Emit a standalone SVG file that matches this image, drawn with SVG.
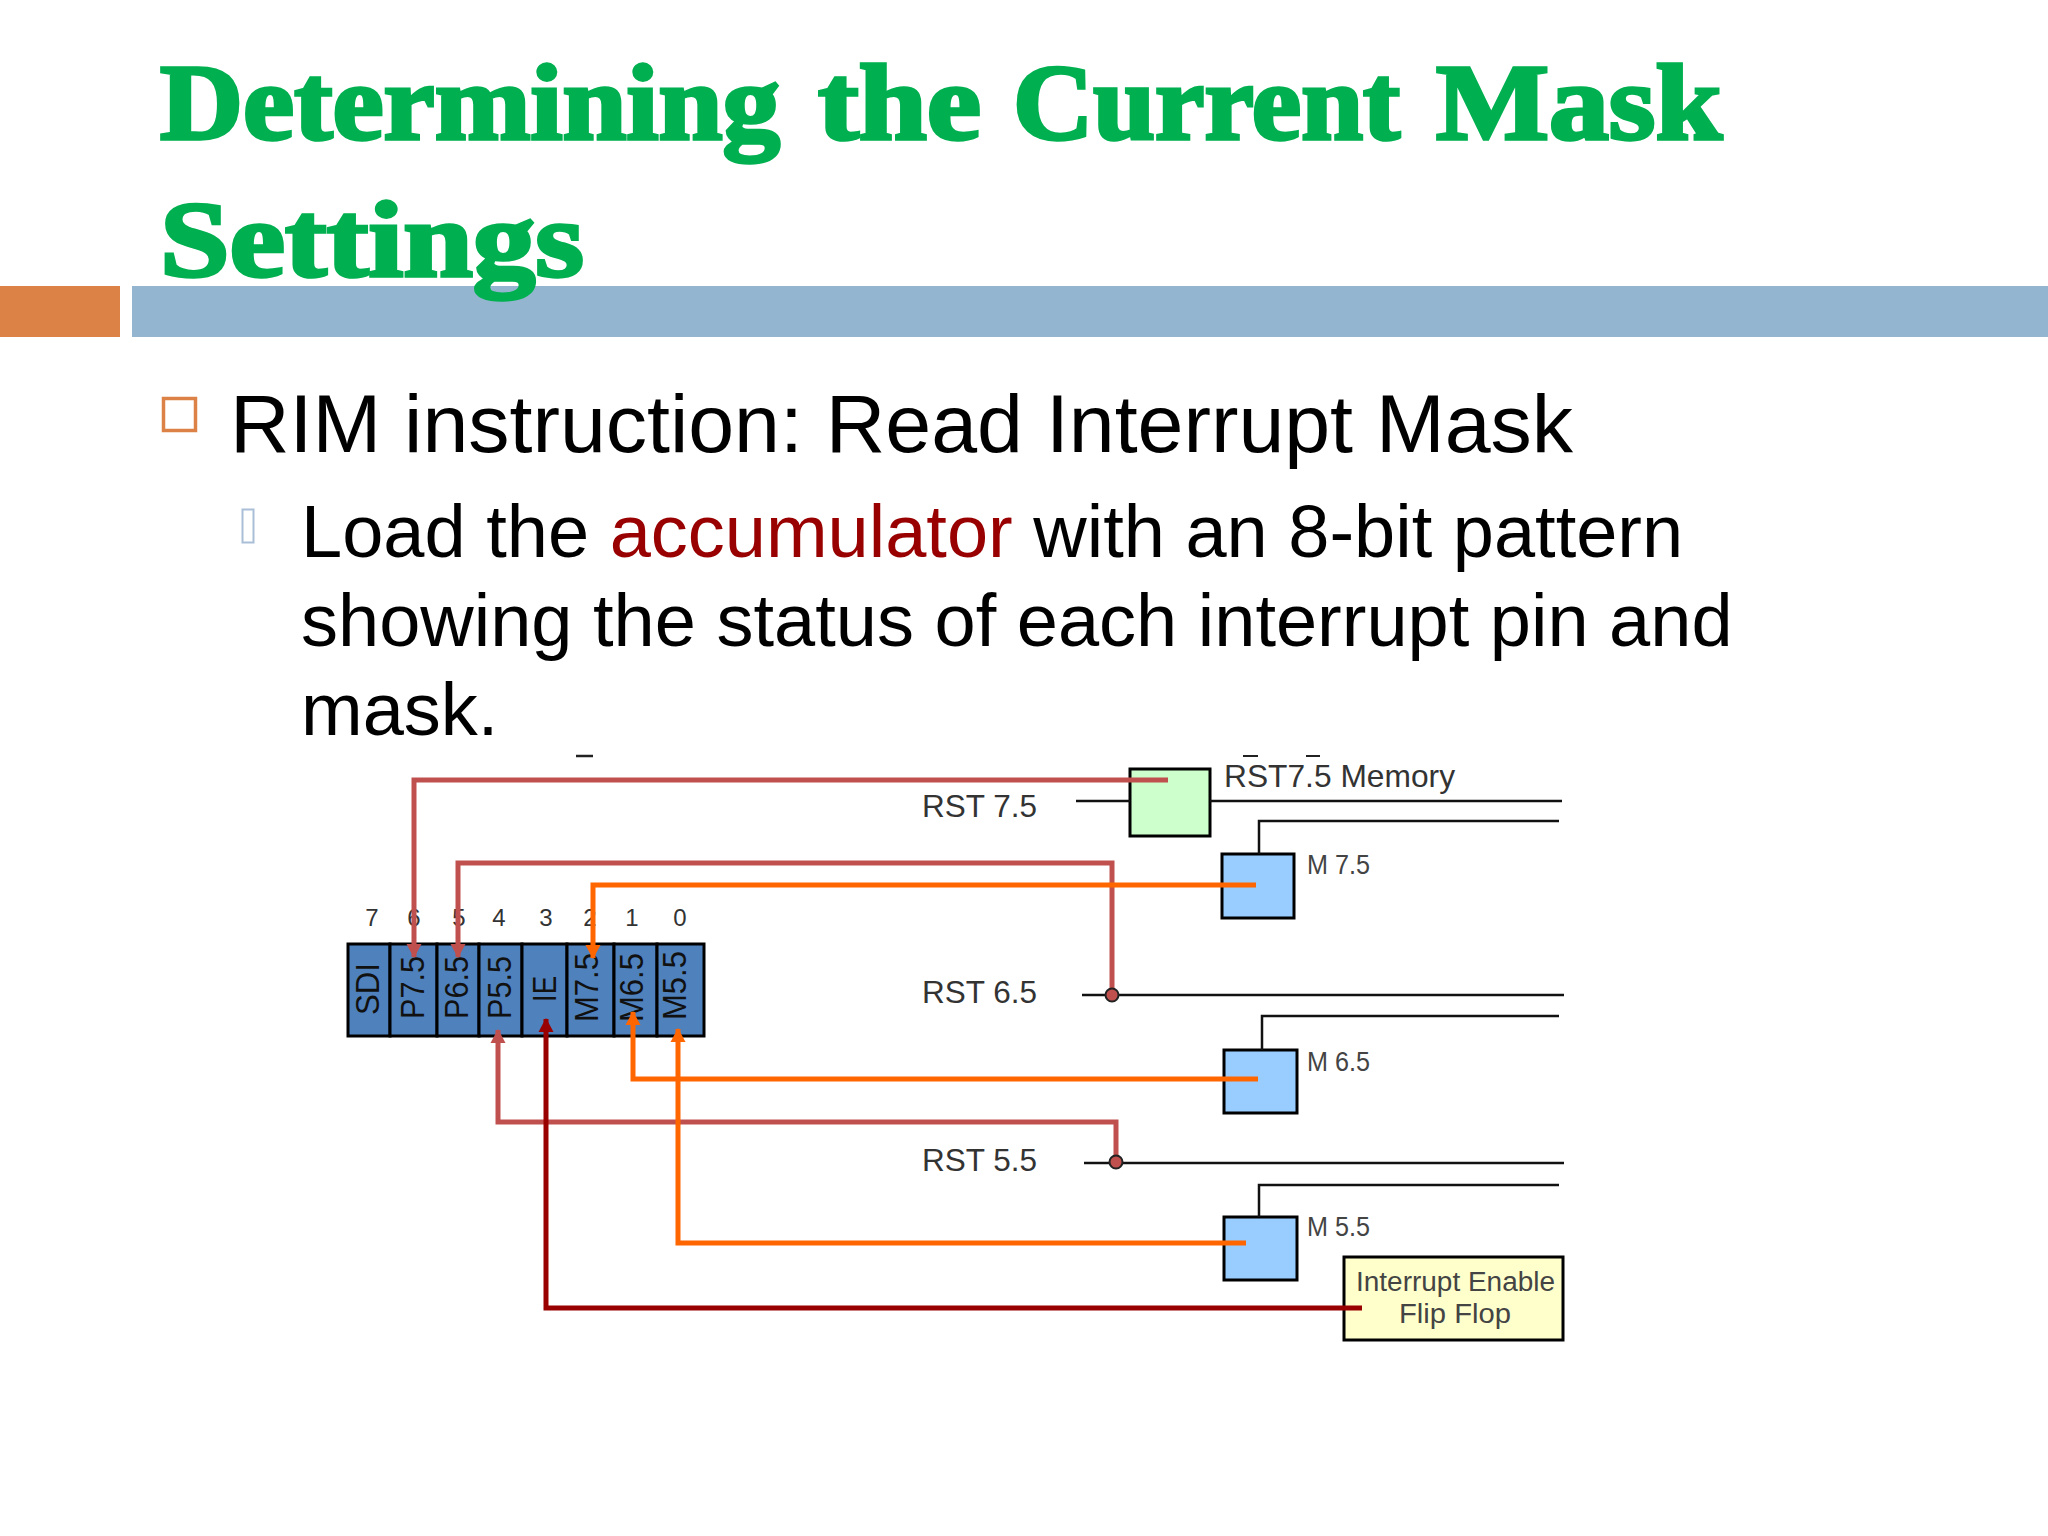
<svg xmlns="http://www.w3.org/2000/svg" width="2048" height="1536" viewBox="0 0 2048 1536">
<defs>
<marker id="ah-red" markerUnits="userSpaceOnUse" markerWidth="14" markerHeight="16" refX="13" refY="7.5" orient="auto" viewBox="0 0 14 15"><path d="M0 0L14 7.5L0 15Z" fill="#c0504d"/></marker>
<marker id="ah-orange" markerUnits="userSpaceOnUse" markerWidth="14" markerHeight="16" refX="13" refY="7.5" orient="auto" viewBox="0 0 14 15"><path d="M0 0L14 7.5L0 15Z" fill="#ff6600"/></marker>
<marker id="ah-dark" markerUnits="userSpaceOnUse" markerWidth="14" markerHeight="16" refX="13" refY="7.5" orient="auto" viewBox="0 0 14 15"><path d="M0 0L14 7.5L0 15Z" fill="#990000"/></marker>
</defs>
<style>
text{font-family:"Liberation Sans",Arial,sans-serif}
.title{font-family:"Liberation Serif","Times New Roman",serif;font-weight:700;font-size:108px;fill:#00b050;stroke:#00b050;stroke-width:3.500px}
.h1{font-size:82px;fill:#000}
.h2{font-size:74px;fill:#000}
.lab{font-size:32px;fill:#333}
.sm{font-size:27px;fill:#444}
.bit{font-size:24px;fill:#333}
.reg{font-size:33px;fill:#111}
.cell{fill:#4f81bd;stroke:#000;stroke-width:3}
.box{stroke:#000;stroke-width:3}
.wire{fill:none;stroke:#111;stroke-width:2.5}
.r{fill:none;stroke:#c0504d;stroke-width:5}
.o{fill:none;stroke:#ff6600;stroke-width:5}
.d{fill:none;stroke:#990000;stroke-width:5}
</style>
<rect width="2048" height="1536" fill="#fff"/>
<g id="bars">
<rect x="0" y="286" width="120" height="51" fill="#dc8247"/>
<rect x="132" y="286" width="1916" height="51" fill="#94b5d0"/>
</g>
<g id="title">
<text class="title" y="139"><tspan x="160" textLength="620" lengthAdjust="spacingAndGlyphs">Determining</tspan> <tspan x="818" textLength="163" lengthAdjust="spacingAndGlyphs">the</tspan> <tspan x="1013" textLength="387" lengthAdjust="spacingAndGlyphs">Current</tspan> <tspan x="1436" textLength="286" lengthAdjust="spacingAndGlyphs">Mask</tspan></text>
<text class="title" x="160" y="276" textLength="424" lengthAdjust="spacingAndGlyphs">Settings</text>
</g>
<g id="body">
<rect x="163.500" y="398.500" width="32" height="32" fill="none" stroke="#dc8247" stroke-width="3.500"/>
<text class="h1" x="230" y="452" textLength="1343" lengthAdjust="spacingAndGlyphs">RIM instruction: Read Interrupt Mask</text>
<rect x="242.500" y="509.500" width="11" height="33" fill="none" stroke="#a9bfd8" stroke-width="2"/>
<text class="h2" x="301" y="557">Load the <tspan fill="#990000">accumulator</tspan> with an 8-bit pattern</text>
<text class="h2" x="301" y="646">showing the status of each interrupt pin and</text>
<text class="h2" x="301" y="735">mask.</text>
</g>
<g id="register">
<rect class="cell" x="348" y="944" width="42" height="92"/>
<rect class="cell" x="390" y="944" width="47" height="92"/>
<rect class="cell" x="437" y="944" width="42" height="92"/>
<rect class="cell" x="479" y="944" width="43" height="92"/>
<rect class="cell" x="522" y="944" width="45" height="92"/>
<rect class="cell" x="567" y="944" width="47" height="92"/>
<rect class="cell" x="614" y="944" width="43" height="92"/>
<rect class="cell" x="657" y="944" width="47" height="92"/>
<text class="reg" transform="translate(379 1015) rotate(-90)" textLength="52" lengthAdjust="spacingAndGlyphs">SDI</text>
<text class="reg" transform="translate(424 1019) rotate(-90)" textLength="63" lengthAdjust="spacingAndGlyphs">P7.5</text>
<text class="reg" transform="translate(468 1019) rotate(-90)" textLength="63" lengthAdjust="spacingAndGlyphs">P6.5</text>
<text class="reg" transform="translate(511 1019) rotate(-90)" textLength="63" lengthAdjust="spacingAndGlyphs">P5.5</text>
<text class="reg" transform="translate(556 1002) rotate(-90)" textLength="26" lengthAdjust="spacingAndGlyphs">IE</text>
<text class="reg" transform="translate(598 1022) rotate(-90)" textLength="69" lengthAdjust="spacingAndGlyphs">M7.5</text>
<text class="reg" transform="translate(643 1022) rotate(-90)" textLength="69" lengthAdjust="spacingAndGlyphs">M6.5</text>
<text class="reg" transform="translate(686 1020) rotate(-90)" textLength="69" lengthAdjust="spacingAndGlyphs">M5.5</text>
<g text-anchor="middle">
<text class="bit" x="372" y="926">7</text>
<text class="bit" x="414" y="926">6</text>
<text class="bit" x="459" y="926">5</text>
<text class="bit" x="499" y="926">4</text>
<text class="bit" x="546" y="926">3</text>
<text class="bit" x="590" y="926">2</text>
<text class="bit" x="632" y="926">1</text>
<text class="bit" x="680" y="926">0</text>
</g>
</g>
<g id="rst75-latch">
<rect class="box" x="1130" y="769" width="80" height="67" fill="#ccffcc"/>
<text class="lab" x="1224" y="787" textLength="231" lengthAdjust="spacingAndGlyphs">RST7.5 Memory</text>
<path d="M1243 756H1258M1306 756H1320" stroke="#222" stroke-width="2" fill="none"/>
</g>
<g id="m75"><rect class="box" x="1222" y="854" width="72" height="64" fill="#99ccff"/><text class="sm" x="1307" y="874" textLength="63" lengthAdjust="spacingAndGlyphs">M 7.5</text></g>
<g id="m65"><rect class="box" x="1224" y="1050" width="73" height="63" fill="#99ccff"/><text class="sm" x="1307" y="1071" textLength="63" lengthAdjust="spacingAndGlyphs">M 6.5</text></g>
<g id="m55"><rect class="box" x="1224" y="1217" width="73" height="63" fill="#99ccff"/><text class="sm" x="1307" y="1236" textLength="63" lengthAdjust="spacingAndGlyphs">M 5.5</text></g>
<g id="ie-flipflop">
<rect class="box" x="1344" y="1257" width="219" height="83" fill="#ffffcc"/>
<text class="sm" x="1356" y="1291" textLength="199" lengthAdjust="spacingAndGlyphs">Interrupt Enable</text>
<text class="sm" x="1399" y="1323" textLength="112" lengthAdjust="spacingAndGlyphs">Flip Flop</text>
</g>
<g id="rst-labels">
<text class="lab" x="922" y="817" textLength="115" lengthAdjust="spacingAndGlyphs">RST 7.5</text>
<text class="lab" x="922" y="1003" textLength="115" lengthAdjust="spacingAndGlyphs">RST 6.5</text>
<text class="lab" x="922" y="1171" textLength="115" lengthAdjust="spacingAndGlyphs">RST 5.5</text>
</g>
<g id="connectors">
<path class="wire" d="M1076 801H1130M1210 801H1562"/>
<path class="wire" d="M1259 854V821H1559"/>
<path class="wire" d="M1082 995H1564"/>
<path class="wire" d="M1262 1050V1016H1559"/>
<path class="wire" d="M1084 1163H1564"/>
<path class="wire" d="M1259 1217V1185H1559"/>
<path d="M576 756H593" stroke="#222" stroke-width="2.500" fill="none"/>
<path class="r" d="M1168 780H414V957" marker-end="url(#ah-red)"/>
<path class="r" d="M1112 995V863H458V957" marker-end="url(#ah-red)"/>
<path class="r" d="M1116 1162V1122H498V1030" marker-end="url(#ah-red)"/>
<path class="o" d="M1256 885H593V958" marker-end="url(#ah-orange)"/>
<path class="o" d="M1258 1079H633V1012" marker-end="url(#ah-orange)"/>
<path class="o" d="M1246 1243H678V1029" marker-end="url(#ah-orange)"/>
<path class="d" d="M1362 1308H546V1019" marker-end="url(#ah-dark)"/>
<circle cx="1112" cy="995" r="6.500" fill="#c0504d" stroke="#222" stroke-width="2"/>
<circle cx="1116" cy="1162" r="6.500" fill="#c0504d" stroke="#222" stroke-width="2"/>
</g>
</svg>
